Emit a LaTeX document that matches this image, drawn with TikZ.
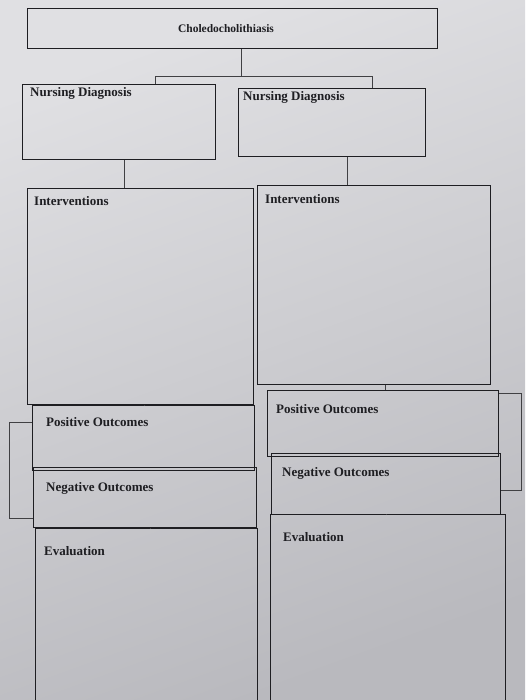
\documentclass[tikz,border=0pt]{standalone}
\usepackage{fontspec}
\setmainfont{Liberation Serif}
\definecolor{papertop}{HTML}{E0E0E3}
\definecolor{paperbot}{HTML}{B9B9BE}
\definecolor{ink}{HTML}{1E1E22}
\begin{document}
\begin{tikzpicture}[x=1pt,y=-1pt,
  box/.style={draw=ink, line width=1.1pt, rectangle, inner sep=0pt, anchor=north west},
  lbl/.style={anchor=west, inner sep=0pt, font=\bfseries\fontsize{13}{15}\selectfont, text=ink},
  conn/.style={draw=ink!85, line width=0.9pt}]
\useasboundingbox (0,0) rectangle (525,700);
\clip (0,0) rectangle (525,700);
\shade[top color=papertop, bottom color=paperbot, shading angle=20] (0,0) rectangle (525,700);
% title
\node[box, minimum width=410, minimum height=40] (title) at (27,8) {};
\node[lbl, anchor=center, font=\bfseries\fontsize{11.5}{13}\selectfont] (tt) at (226,29) {Choledocholithiasis};
% nursing diagnosis
\node[box, minimum width=193, minimum height=75] (lnd) at (22,84) {};
\node[lbl] (lndt) at (30,93) {Nursing Diagnosis};
\node[box, minimum width=187, minimum height=68] (rnd) at (238,88) {};
\node[lbl] (rndt) at (243,97) {Nursing Diagnosis};
% interventions
\node[box, minimum width=226, minimum height=216] (lint) at (27,188) {};
\node[lbl] (lintt) at (34,201) {Interventions};
\node[box, minimum width=233, minimum height=199] (rint) at (257,185) {};
\node[lbl] (rintt) at (265,199) {Interventions};
% outcomes
\node[box, minimum width=222, minimum height=65] (lpo) at (32,405) {};
\node[lbl] (lpot) at (46,422) {Positive Outcomes};
\node[box, minimum width=223, minimum height=60] (lno) at (33,467) {};
\node[lbl] (lnot) at (46,488) {Negative Outcomes};
\node[box, minimum width=231, minimum height=66] (rpo) at (267,390) {};
\node[lbl] (rpot) at (276,409) {Positive Outcomes};
\node[box, minimum width=229, minimum height=61] (rno) at (271,453) {};
\node[lbl] (rnot) at (282,473) {Negative Outcomes};
% evaluation
\node[box, minimum width=222, minimum height=200] (lev) at (35,528) {};
\node[lbl] (levt) at (44,551) {Evaluation};
\node[box, minimum width=235, minimum height=200] (rev) at (270,514) {};
\node[lbl] (revt) at (283,537) {Evaluation};
% connectors
\coordinate (j) at (241,76);
\coordinate (jl) at (155,76);
\coordinate (jr) at (372,76);
\draw[conn] (j |- title.south) -- (j);
\draw[conn] (jl |- lnd.north) -- (jl) -- (jr) -- (jr |- rnd.north);
\draw[conn] ([xshift=5.5]lnd.south) coordinate (a1) -- (a1 |- lint.north);
\draw[conn] ([xshift=15.5]rnd.south) coordinate (a2) -- (a2 |- rint.north);
\draw[conn] ([xshift=4]lint.south) coordinate (a3) -- (a3 |- lpo.north);
\draw[conn] ([xshift=11.5]rint.south) coordinate (a4) -- (a4 |- rpo.north);
\draw[conn] ([xshift=5.5]lno.south) coordinate (a5) -- (a5 |- lev.north);
\draw[conn] ([xshift=0.5]rno.south) coordinate (a6) -- (a6 |- rev.north);
\draw[conn] ([yshift=15.5]lpo.west) -- ++(-23,0) |- ([yshift=-21]lno.west);
\draw[conn] ([yshift=30]rpo.east) -- ++(22,0) |- ([yshift=-6]rno.east);
\end{tikzpicture}
\end{document}
